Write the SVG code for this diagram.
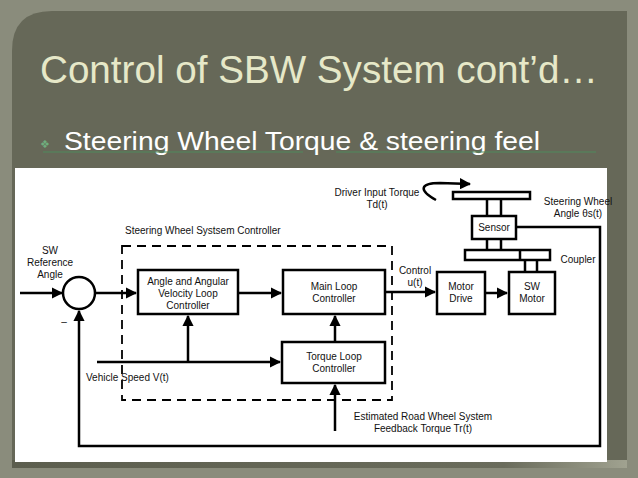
<svg xmlns="http://www.w3.org/2000/svg" width="638" height="478" viewBox="0 0 638 478">
<defs>
<style>
.b{fill:#fff;stroke:#000;stroke-width:2.5}
.l{fill:none;stroke:#000;stroke-width:2.5}
.t{font-family:"Liberation Sans",Arial,sans-serif;font-size:10px;fill:#111;text-anchor:middle}
</style>
<marker id="a" viewBox="0 0 10 10" refX="9" refY="5" markerWidth="4.5" markerHeight="4.5" orient="auto"><path d="M0,0L10,5L0,10z" fill="#000"/></marker>
<linearGradient id="g" x1="0" x2="1"><stop offset="0" stop-color="#5c5e4e"/><stop offset="0.8" stop-color="#6a6c5c"/><stop offset="1" stop-color="#a0a290"/></linearGradient>
</defs>
<rect width="638" height="478" fill="#8a8c7c"/>
<path d="M52,11H627V462H12V51Q12,11 52,11Z" fill="#666858"/>
<rect x="12" y="460" width="615" height="8" fill="url(#g)"/>
<text x="40" y="83" font-family="Liberation Sans,Arial,sans-serif" font-size="39" fill="#e6e8c8" textLength="558" lengthAdjust="spacingAndGlyphs">Control of SBW System cont’d…</text>
<text x="40" y="148" font-family="DejaVu Sans,sans-serif" font-size="11" fill="#6fae7e">❖</text>
<text x="64" y="150" font-family="Liberation Sans,Arial,sans-serif" font-size="25" fill="#fff" textLength="476" lengthAdjust="spacingAndGlyphs">Steering Wheel Torque &amp; steering feel</text>
<line x1="43" y1="152" x2="303" y2="152" stroke="#4f8a5c" stroke-width="1.2"/>
<line x1="336" y1="152" x2="596" y2="152" stroke="#4f8a5c" stroke-width="1.2"/>
<rect x="15" y="168" width="592" height="294" fill="#fff"/>

<g id="controller-frame"><rect x="122" y="246" width="270" height="154" fill="none" stroke="#000" stroke-width="1.8" stroke-dasharray="9,6"/>
<text class="t" x="125" y="234" style="text-anchor:start">Steering Wheel  Systsem Controller</text></g>
<g id="sum"><circle cx="79" cy="293" r="16" class="b"/><text class="t" x="64" y="325" font-size="13">–</text></g>
<g id="ref"><text class="t" x="50" y="254">SW</text><text class="t" x="50" y="266">Reference</text><text class="t" x="50" y="278">Angle</text></g>
<g id="angle"><rect x="138" y="270" width="100" height="44" class="b"/><text class="t" x="188" y="285">Angle and Angular</text><text class="t" x="188" y="297">Velocity Loop</text><text class="t" x="188" y="309">Controller</text></g>
<g id="main"><rect x="283" y="270" width="102" height="44" class="b"/><text class="t" x="334" y="290">Main Loop</text><text class="t" x="334" y="302">Controller</text></g>
<g id="torque"><rect x="282" y="342" width="103" height="41" class="b"/><text class="t" x="334" y="360">Torque Loop</text><text class="t" x="334" y="372">Controller</text></g>
<g id="drive"><rect x="437" y="272" width="48" height="42" class="b"/><text class="t" x="461" y="290">Motor</text><text class="t" x="461" y="302">Drive</text></g>
<g id="swmotor"><rect x="509" y="272" width="46" height="42" class="b"/><text class="t" x="532" y="290">SW</text><text class="t" x="532" y="302">Motor</text></g>
<g id="wheel"><rect x="453" y="192" width="77" height="7" class="b" stroke-width="2"/><line x1="487" y1="199" x2="487" y2="216" class="l" stroke-width="2"/><line x1="501" y1="199" x2="501" y2="216" class="l" stroke-width="2"/>
<text class="t" x="578" y="205">Steering Wheel</text><text class="t" x="578" y="217">Angle θs(t)</text></g>
<g id="sensor"><rect x="472" y="216" width="44" height="23" class="b"/><text class="t" x="494" y="231" font-size="9">Sensor</text>
<line x1="487" y1="239" x2="487" y2="250" class="l" stroke-width="2"/><line x1="501" y1="239" x2="501" y2="250" class="l" stroke-width="2"/></g>
<g id="coupler"><rect x="465" y="250" width="85" height="10" class="b" stroke-width="2"/><line x1="520" y1="250" x2="520" y2="260" class="l" stroke-width="1.5"/>
<line x1="525" y1="260" x2="525" y2="272" class="l" stroke-width="2"/><line x1="537" y1="260" x2="537" y2="272" class="l" stroke-width="2"/><text class="t" x="578" y="263">Coupler</text></g>
<g id="driver"><text class="t" x="377" y="196">Driver Input Torque</text><text class="t" x="377" y="208">Td(t)</text>
<path d="M436,200C418,190 420,183 440,183L470,184" class="l" stroke-width="2" marker-end="url(#a)"/></g>
<g id="connectors">
<line x1="20" y1="293" x2="62" y2="293" class="l" marker-end="url(#a)"/>
<line x1="95" y1="293" x2="136" y2="293" class="l" marker-end="url(#a)"/>
<line x1="238" y1="293" x2="281" y2="293" class="l" marker-end="url(#a)"/>
<line x1="385" y1="292" x2="435" y2="292" class="l" marker-end="url(#a)"/>
<text class="t" x="415" y="274">Control</text><text class="t" x="415" y="286">u(t)</text>
<line x1="485" y1="293" x2="507" y2="293" class="l" marker-end="url(#a)"/>
<polyline points="516,227 600,227 600,446 79,446 79,311" class="l" marker-end="url(#a)"/>
<line x1="97" y1="362" x2="280" y2="362" class="l" marker-end="url(#a)"/>
<line x1="188" y1="362" x2="188" y2="316" class="l" marker-end="url(#a)"/>
<line x1="335" y1="342" x2="335" y2="316" class="l" marker-end="url(#a)"/>
<line x1="335" y1="431" x2="335" y2="385" class="l" marker-end="url(#a)"/>
<text class="t" x="86" y="381" style="text-anchor:start">Vehicle Speed V(t)</text>
<text class="t" x="423" y="420">Estimated Road Wheel System</text><text class="t" x="423" y="432">Feedback Torque Tr(t)</text>
</g>
</svg>
